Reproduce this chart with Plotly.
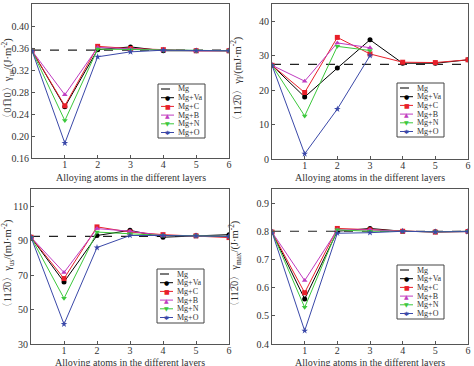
import plotly.graph_objects as go

layers = [0, 1, 2, 3, 4, 5, 6]
series_names = ["Mg+Va", "Mg+C", "Mg+B", "Mg+N", "Mg+O"]

# Panel 1: <01-10> gamma_us (J/m^2)
p1_mg = 0.356
p1 = {
    "Mg+Va": [0.355, 0.253, 0.357, 0.362, 0.355, 0.355, 0.355],
    "Mg+C":  [0.355, 0.255, 0.363, 0.359, 0.357, 0.355, 0.355],
    "Mg+B":  [0.355, 0.275, 0.361, 0.358, 0.356, 0.355, 0.355],
    "Mg+N":  [0.355, 0.228, 0.358, 0.357, 0.356, 0.355, 0.355],
    "Mg+O":  [0.355, 0.187, 0.344, 0.353, 0.356, 0.355, 0.355],
}
# Panel 2: <11-20> gamma_I (mJ/m^2)
p2_mg = 27.5
p2 = {
    "Mg+Va": [27.2, 18.0, 26.4, 34.6, 27.8, 27.8, 28.8],
    "Mg+C":  [27.2, 19.3, 35.3, 30.5, 28.1, 28.0, 28.8],
    "Mg+B":  [27.2, 22.6, 33.7, 32.3, None, None, None],
    "Mg+N":  [27.2, 12.5, 32.7, 31.5, None, None, None],
    "Mg+O":  [27.2, 1.5, 14.5, 30.0, None, None, None],
}
# Panel 3: <11-20> gamma_us (mJ/m^2)
p3_mg = 92.5
p3 = {
    "Mg+Va": [92.0, 66.0, 93.0, 96.0, 92.0, 92.8, 93.5],
    "Mg+C":  [92.0, 68.0, 98.0, 95.0, 93.5, 92.8, 91.8],
    "Mg+B":  [92.0, 71.5, 97.0, 95.5, 93.0, 92.8, 92.5],
    "Mg+N":  [92.0, 56.5, 95.0, 94.0, 93.0, 92.8, 92.5],
    "Mg+O":  [92.0, 41.5, 86.0, 93.0, 93.0, 92.8, 92.5],
}
# Panel 4: <11-20> gamma_max (J/m^2)
p4_mg = 0.800
p4 = {
    "Mg+Va": [0.797, 0.560, 0.800, 0.810, 0.800, 0.798, 0.800],
    "Mg+C":  [0.797, 0.582, 0.810, 0.805, 0.800, 0.797, 0.799],
    "Mg+B":  [0.797, 0.625, 0.805, 0.805, 0.800, 0.798, 0.799],
    "Mg+N":  [0.797, 0.530, 0.805, 0.800, 0.800, 0.798, 0.799],
    "Mg+O":  [0.797, 0.447, 0.793, 0.795, 0.800, 0.798, 0.799],
}

y_titles = [
    "〈01\u030510〉γ<sub>us</sub>/(J·m<sup>-2</sup>)",
    "〈112\u03050〉γ<sub>I</sub>/(mJ·m<sup>-2</sup>)",
    "〈112\u03050〉γ<sub>us</sub>/(mJ·m<sup>-2</sup>)",
    "〈112\u03050〉γ<sub>max</sub>/(J·m<sup>-2</sup>)",
]
x_title = "Alloying atoms in the different layers"
legend_labels = ["Mg"] + series_names

colors = {"Mg+Va": "#000000", "Mg+C": "#e8202a", "Mg+B": "#c03cc0",
          "Mg+N": "#3cc83c", "Mg+O": "#3a48a8"}
symbols = {"Mg+Va": "circle", "Mg+C": "square", "Mg+B": "triangle-up",
           "Mg+N": "triangle-down", "Mg+O": "star"}
glyphs = {"Mg+Va": "●", "Mg+C": "■", "Mg+B": "▲", "Mg+N": "▼", "Mg+O": "✱"}

W, H = 474, 366
def fx(a, b):
    return [a / W, b / W]
def fy(top, bot):
    return [1 - bot / H, 1 - top / H]

panels = [
    dict(data=p1, mg=p1_mg, px=(32, 229), py=(4, 158), yr=[0.16, 0.44], dt=0.04, fmt=".2f",
         leg=(158, 84), xt=177),
    dict(data=p2, mg=p2_mg, px=(272, 468), py=(4, 159), yr=[0, 45], dt=10, fmt="d",
         leg=(397, 83), xt=177),
    dict(data=p3, mg=p3_mg, px=(31, 229), py=(189, 344), yr=[30, 120], dt=20, fmt="d",
         leg=(157, 269), t0=30, xt=362),
    dict(data=p4, mg=p4_mg, px=(272, 468), py=(189, 344), yr=[0.4, 0.95], dt=0.1, fmt=".1f",
         leg=(397, 265), xt=362),
]

fig = go.Figure()
font_fam = "Liberation Serif, Times New Roman, serif"
shapes, annots = [], []
LW, LH, STEP = 47, 54, 8.7
for i, p in enumerate(panels):
    n = "" if i == 0 else str(i + 1)
    xa, ya = "x" + n, "y" + n
    fig.add_trace(go.Scatter(x=layers, y=[p["mg"]] * len(layers), mode="lines", name="Mg",
                             line=dict(color="#222222", dash="dash", width=1.2),
                             xaxis=xa, yaxis=ya, showlegend=False))
    for s in series_names:
        fig.add_trace(go.Scatter(x=layers, y=p["data"][s], mode="lines+markers", name=s,
                                 line=dict(color=colors[s], width=1),
                                 marker=dict(color=colors[s], symbol=symbols[s], size=5,
                                             line=dict(width=0)),
                                 xaxis=xa, yaxis=ya, showlegend=False))
    axcommon = dict(showline=True, linecolor="#555555", linewidth=1, mirror=True,
                    ticks="inside", ticklen=3, tickcolor="#555555", showgrid=False,
                    zeroline=False, automargin=False,
                    tickfont=dict(size=10, family=font_fam, color="#333333"))
    fig.update_layout(**{
        "xaxis" + n: dict(domain=fx(*p["px"]), range=[0, 6], tickvals=[1, 2, 3, 4, 5, 6],
                          anchor=ya, ticklabelstandoff=-3, **axcommon),
        "yaxis" + n: dict(domain=fy(*p["py"]), range=p["yr"], dtick=p["dt"], tick0=p.get("t0", 0),
                          tickformat=p["fmt"], anchor=xa,
                          title=dict(text=y_titles[i],
                                     font=dict(size=10.5, family=font_fam, color="#333333")),
                          **axcommon),
    })
    # x-axis title
    annots.append(dict(xref="paper", yref="paper", x=(p["px"][0] + p["px"][1]) / 2 / W,
                       y=1 - p["xt"] / H, text=x_title, showarrow=False,
                       xanchor="center", yanchor="middle",
                       font=dict(size=10, family=font_fam, color="#333333")))
    # hand-built compact legend box
    L, T = p["leg"]
    shapes.append(dict(type="rect", xref="paper", yref="paper",
                       x0=L / W, x1=(L + LW) / W, y0=1 - (T + LH) / H, y1=1 - T / H,
                       line=dict(color="#444444", width=1), fillcolor="white", layer="above"))
    for k, lab in enumerate(legend_labels):
        yy = 1 - (T + 5 + STEP * k) / H
        if lab == "Mg":
            shapes.append(dict(type="line", xref="paper", yref="paper",
                               x0=(L + 3) / W, x1=(L + 16) / W, y0=yy, y1=yy,
                               line=dict(color="#222222", width=1.2, dash="dash"), layer="above"))
        else:
            shapes.append(dict(type="line", xref="paper", yref="paper",
                               x0=(L + 3) / W, x1=(L + 16) / W, y0=yy, y1=yy,
                               line=dict(color=colors[lab], width=1), layer="above"))
            annots.append(dict(xref="paper", yref="paper", x=(L + 9.5) / W, y=yy,
                               text=glyphs[lab], showarrow=False, xanchor="center",
                               yanchor="middle",
                               font=dict(size=6, color=colors[lab], family="DejaVu Sans")))
        annots.append(dict(xref="paper", yref="paper", x=(L + 18) / W, y=yy, text=lab,
                           showarrow=False, xanchor="left", yanchor="middle",
                           font=dict(size=8, color="#333333", family=font_fam)))

fig.update_layout(width=W, height=H, margin=dict(l=0, r=0, t=0, b=0),
                  paper_bgcolor="white", plot_bgcolor="white", showlegend=False,
                  shapes=shapes, annotations=annots,
                  font=dict(family=font_fam, color="#333333"))
fig.write_html("out.html", config={"displayModeBar": False},
               post_script="document.body.style.margin='0px';document.body.style.padding='0px';")
